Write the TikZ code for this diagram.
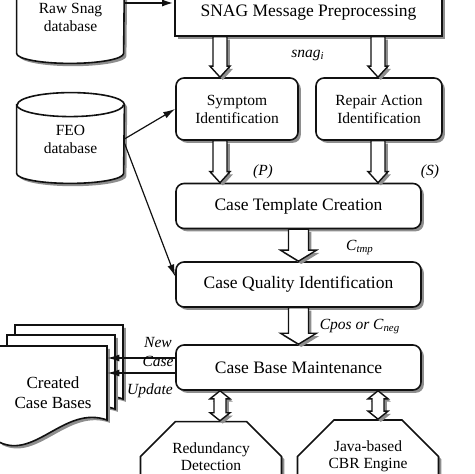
\documentclass[tikz,border=0pt]{standalone}
\usepackage{fontspec}
\setmainfont{Liberation Serif}
\usepackage{tikz}
\usetikzlibrary{arrows.meta,positioning,shapes.misc,calc,shadows,backgrounds}
\definecolor{inkline}{HTML}{111111}
\definecolor{shadegray}{HTML}{8E8E8E}

% hollow block arrows between two points (shaft half width, head half width)
\newcommand{\blockdown}[4]{%
  \draw[hollow] let \p1=(#1), \p2=(#2) in
    (\x1-#3,\y1) -- (\x1-#3,\y2+5.5pt) -- (\x1-#4,\y2+5.5pt) -- (\x1,\y2)
    -- (\x1+#4,\y2+5.5pt) -- (\x1+#3,\y2+5.5pt) -- (\x1+#3,\y1) -- cycle;}
\newcommand{\blockboth}[4]{%
  \draw[hollow] let \p1=(#1), \p2=(#2) in
    (\x1,\y1) -- (\x1+#4,\y1-4pt) -- (\x1+#3,\y1-4pt) -- (\x1+#3,\y2+4pt)
    -- (\x1+#4,\y2+4pt) -- (\x1,\y2) -- (\x1-#4,\y2+4pt) -- (\x1-#3,\y2+4pt)
    -- (\x1-#3,\y1-4pt) -- (\x1-#4,\y1-4pt) -- cycle;}

\begin{document}
\begin{tikzpicture}[
    x=0.5pt, y=-0.5pt,
    shade/.style={drop shadow={shadow xshift=1.4pt, shadow yshift=-1.4pt, fill=shadegray, opacity=1}},
    box/.style={rectangle, draw=inkline, fill=white, line width=0.8pt, rounded corners=4pt, inner sep=0pt, align=center, shade},
    widebox/.style={box, minimum width=122.5pt, minimum height=22.5pt, font=\fontsize{8.75}{10}\selectfont},
    smallbox/.style={box, minimum height=31pt, font=\fontsize{7.75}{9}\selectfont},
    engine/.style={chamfered rectangle, chamfered rectangle corners={north west,north east}, chamfered rectangle xsep=11pt, chamfered rectangle ysep=10.5pt, draw=inkline, fill=white, line width=0.8pt, inner sep=0pt, minimum width=70.5pt, minimum height=34.5pt, align=center, font=\fontsize{7.75}{8.5}\selectfont, shade},
    dbtext/.style={inner sep=0pt, minimum width=53.5pt, align=center, font=\fontsize{7.75}{9}\selectfont},
    dbase/.style={draw=inkline, fill=white, line width=0.8pt},
    docpage/.style={draw=inkline, fill=white, line width=0.8pt, shade},
    hollow/.style={draw=inkline, fill=white, line width=0.7pt, shade},
    link/.style={-{Latex[length=6pt,width=3.5pt]}, line width=0.6pt, draw=inkline},
    lbl/.style={inner sep=0pt, font=\fontsize{7.75}{9.5}\selectfont\itshape}
]
\useasboundingbox (0,0) rectangle (474,474);
\clip (0,0) rectangle (474,474);

\node[box, sharp corners, minimum width=133.5pt, minimum height=23pt, font=\fontsize{8.75}{10}\selectfont] (snag) at (308.5,13) {SNAG Message Preprocessing};
\node[smallbox, minimum width=61pt] (sym) at (237,109) {Symptom\\Identification};
\node[smallbox, minimum width=63pt] (rep) at (379,109) {Repair Action\\Identification};
\node[widebox] (tmpl) at (298.5,206) {Case Template Creation};
\node[widebox] (qual) at (298.5,284.5) {Case Quality Identification};
\node[widebox] (cbm) at (298.5,367.5) {Case Base Maintenance};
\node[engine] (red) at (211,456.5) {Redundancy\\Detection};
\node[engine] (java) at (368,456.5) {Java-based\\CBR Engine};

\node[dbtext, minimum height=36pt] (raw) at (70.5,17) {Raw Snag\\database};
\node[dbtext, minimum height=34pt] (feo) at (70.5,139) {FEO\\database};
\node[inner sep=0pt, minimum width=54pt, minimum height=47pt, align=center, font=\fontsize{8.5}{10}\selectfont] (cb) at (53,393) {Created\\Case Bases};

% databases and document stack
\begin{scope}[on background layer]
  \clip (0,0) rectangle (474,474);
  \foreach \db in {raw,feo} {
    \draw[dbase, shade] (\db.north west) -- (\db.south west)
      arc[start angle=180, end angle=360, x radius=26.75pt, y radius=5pt]
      -- (\db.north east) arc[start angle=0, end angle=180, x radius=26.75pt, y radius=6pt] -- cycle;
    \draw[dbase, fill=none] (\db.north west) arc[start angle=180, end angle=360, x radius=26.75pt, y radius=6pt];
  }
  \foreach \dx/\dy in {16/-21, 8/-11, 0/0}
    \draw[docpage, shift={(\dx,\dy)}] (-1,346) -- (107,346) -- (107,420)
      .. controls (65,405) and (35,460) .. (-1,442) -- cycle;
\end{scope}

\coordinate (colL) at (220,0);
\coordinate (colR) at (378,0);
\coordinate (newc) at ([yshift=4.75pt]cbm.west);
\coordinate (updc) at ([yshift=-2.75pt]cbm.west);

\blockdown{snag.south -| colL}{sym.north -| colL}{3.5pt}{5pt}
\blockdown{snag.south -| colR}{rep.north -| colR}{3.5pt}{5pt}
\blockdown{sym.south -| colL}{tmpl.north -| colL}{3.5pt}{5pt}
\blockdown{rep.south -| colR}{tmpl.north -| colR}{3.5pt}{5pt}
\blockdown{tmpl.south}{qual.north}{5pt}{9pt}
\blockdown{qual.south}{cbm.north}{5pt}{9pt}
\blockboth{cbm.south -| colL}{red.north -| colL}{3pt}{5pt}
\blockboth{cbm.south -| colR}{java.north -| colR}{3pt}{5pt}

\draw[link, line width=1.2pt] ([yshift=7pt]raw.east) -- ([yshift=5pt]snag.west);
\draw[link] (feo.east) -- (sym.west);
\draw[link] ([yshift=-2pt]feo.east) -- ([yshift=4pt]qual.west);
\draw[link] (newc) -- (newc -| cb.east);
\draw[link] (updc) -- (updc -| cb.east);

\node[lbl] (snagi) at (308,56) {snag\textsubscript{i}};
\node[lbl] (plbl) at (263,172) {(P)};
\node[lbl] (slbl) at (430,172) {(S)};
\node[lbl] (ctmp) at (360,248) {C\textsubscript{tmp}};
\node[lbl] (cposneg) at (360,327) {Cpos or C\textsubscript{neg}};
\node[lbl, align=center] (newcase) at (158,352) {New\\Case};
\node[lbl] (upd) at (150,391) {Update};
\end{tikzpicture}
\end{document}
